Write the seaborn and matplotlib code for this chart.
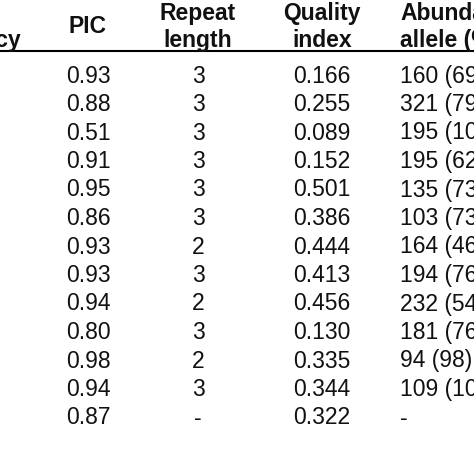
import matplotlib
matplotlib.use("Agg")
import matplotlib.pyplot as plt
import seaborn as sns

sns.set_theme(style="white")
plt.rcParams['font.family'] = ['Liberation Sans', 'DejaVu Sans']

headers = ["Frequency", "PIC", "Repeat\nlength", "Quality\nindex", "Abundant\nallele (%)"]
pic = ["0.93", "0.88", "0.51", "0.91", "0.95", "0.86", "0.93", "0.93", "0.94", "0.80", "0.98", "0.94", "0.87"]
repeat = ["3", "3", "3", "3", "3", "3", "2", "3", "2", "3", "2", "3", "-"]
quality = ["0.166", "0.255", "0.089", "0.152", "0.501", "0.386", "0.444", "0.413", "0.456", "0.130", "0.335", "0.344", "0.322"]
allele = ["160 (69)", "321 (79)", "195 (100)", "195 (62)", "135 (73)", "103 (73)", "164 (46)",
          "194 (76)", "232 (54)", "181 (76)", "94 (98)", "109 (100)", "-"]

fig = plt.figure(figsize=(4.74, 4.74), dpi=100)
ax = fig.add_axes([0, 0, 1, 1])
ax.set_xlim(0, 474)
ax.set_ylim(474, 0)
ax.axis("off")

fs = 16.5
col = "#111111"
ax.text(21, 40, headers[0], ha="right", va="center", fontsize=fs, fontweight="bold", color=col)
ax.text(88, 26, headers[1], ha="center", va="center", fontsize=fs, fontweight="bold", color=col)
for x, h, ha in [(198, headers[2], "center"), (322, headers[3], "center"), (400, headers[4], "left")]:
    ax.text(x, 27, h, ha=ha, va="center", fontsize=fs, fontweight="bold", linespacing=1.2, color=col)
ax.plot([0, 474], [51, 51], color="black", lw=1.5)

y0, dy = 76, 28.5
for i in range(len(pic)):
    y = y0 + i * dy
    ax.text(88, y, pic[i], ha="center", va="center", fontsize=fs, color=col)
    ax.text(198, y, repeat[i], ha="center", va="center", fontsize=fs, color=col)
    ax.text(322, y, quality[i], ha="center", va="center", fontsize=fs, color=col)
    ax.text(400, y, allele[i], ha="left", va="center", fontsize=fs, color=col)

fig.savefig("out.png", dpi=100)
